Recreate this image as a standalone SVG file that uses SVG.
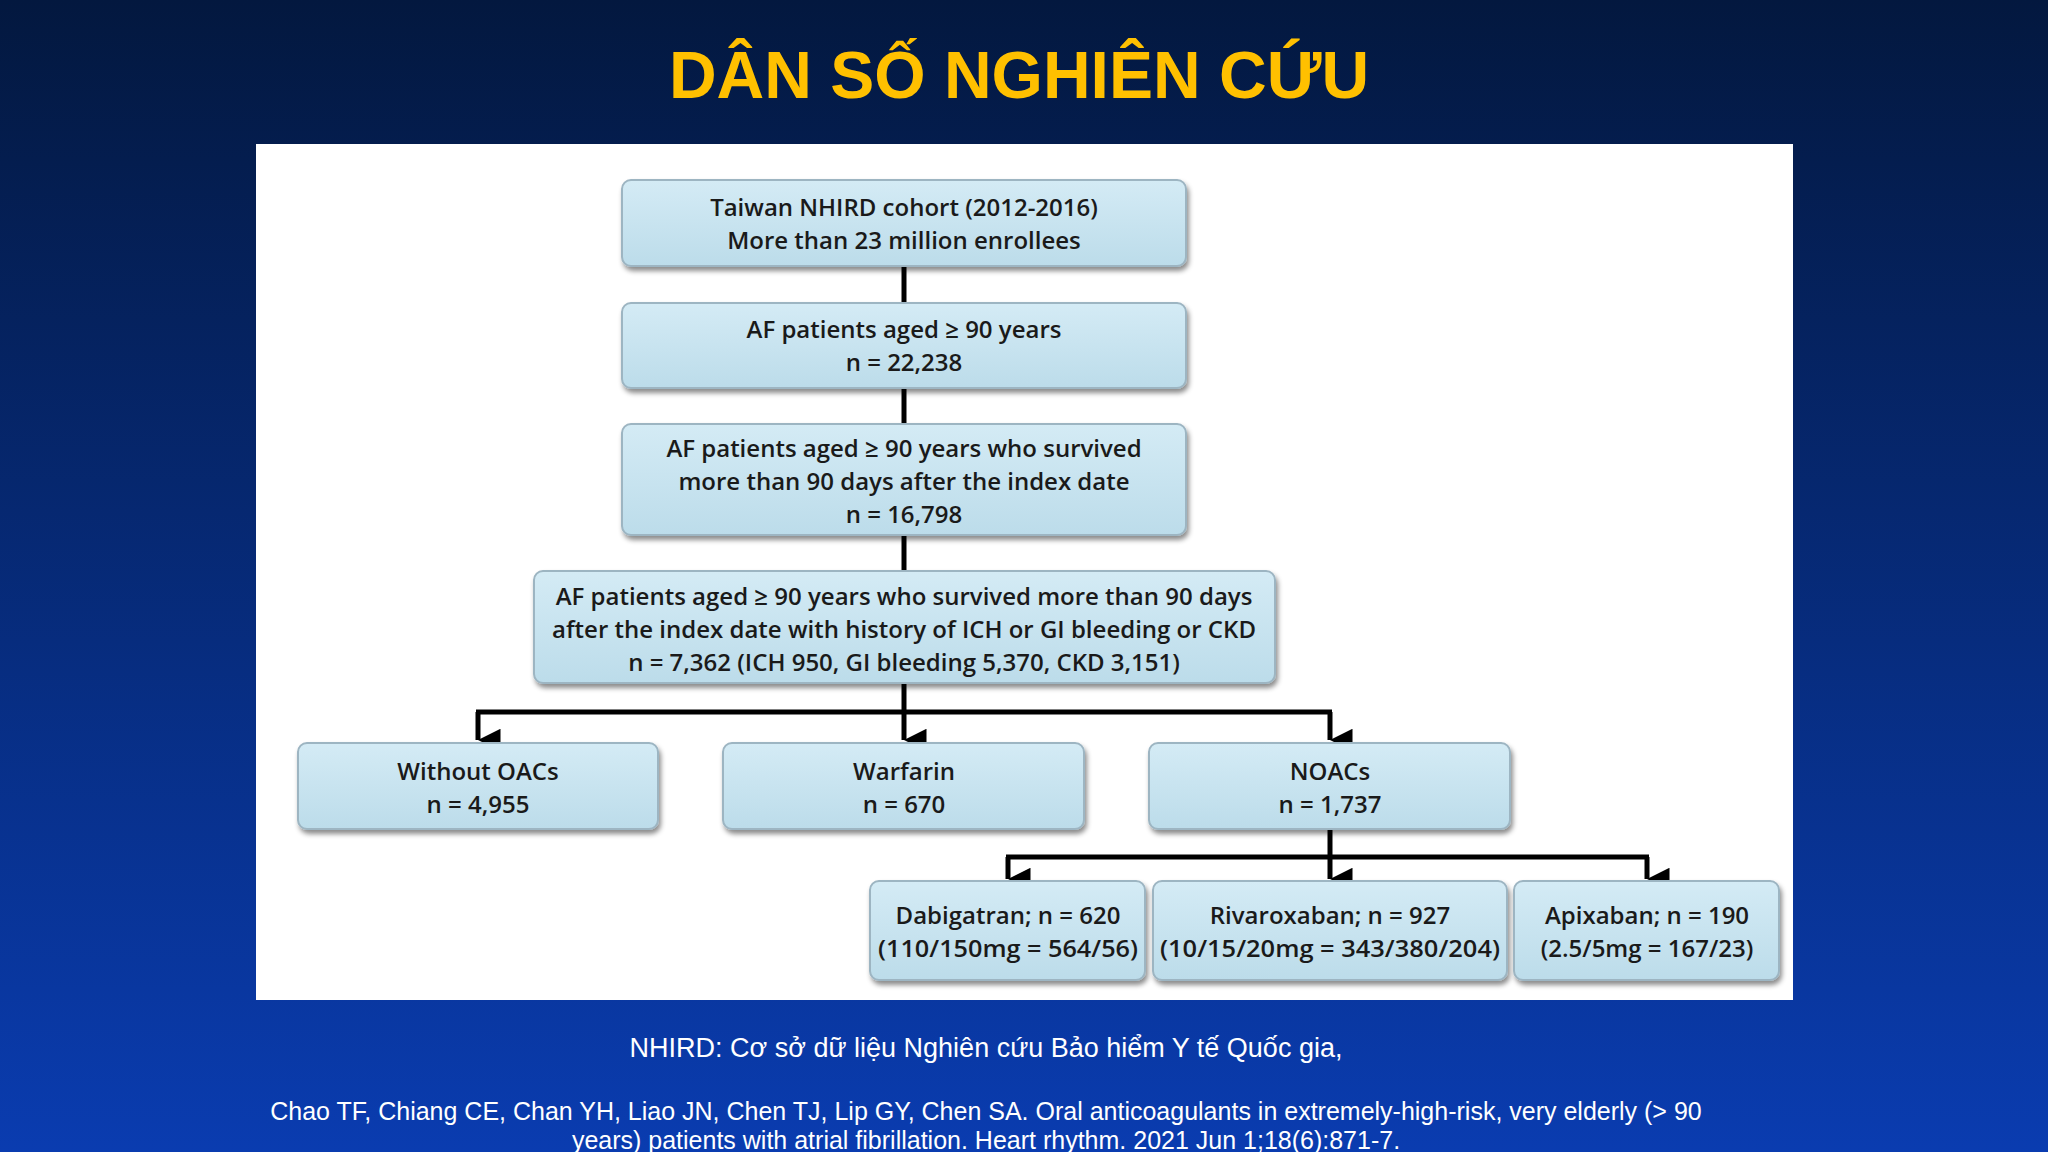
<svg xmlns="http://www.w3.org/2000/svg" width="2048" height="1152" viewBox="0 0 2048 1152">
<defs>
<linearGradient id="bg" x1="0" y1="0" x2="0" y2="1"><stop offset="0" stop-color="#03183f"/><stop offset="1" stop-color="#0a3cb0"/></linearGradient>
<linearGradient id="bx" x1="0" y1="0" x2="0" y2="1"><stop offset="0" stop-color="#d4ebf5"/><stop offset="1" stop-color="#bcdcea"/></linearGradient>
<filter id="sh" x="-5%" y="-10%" width="110%" height="125%"><feDropShadow dx="2" dy="4" stdDeviation="2.5" flood-color="#000" flood-opacity="0.45"/></filter>
<marker id="ar" viewBox="0 0 10 10" refX="5" refY="10" markerWidth="4.5" markerHeight="4.5" orient="auto-start-reverse"><path d="M0,0 L10,0 L5,10 Z" fill="#000"/></marker>
<style>
.b{fill:url(#bx);stroke:#9db5c2;stroke-width:2;filter:url(#sh)}
.t{font-family:"Open Sans","Liberation Sans",sans-serif;font-weight:600;font-size:24px;fill:#1a1a1a;text-anchor:middle}
.c{stroke:#000;stroke-width:5;fill:none}
.a{stroke:#000;stroke-width:5;fill:none;marker-end:url(#ar)}
.f{font-family:"Liberation Sans",Arial,sans-serif;fill:#fff;text-anchor:middle}
</style>
</defs>
<rect width="2048" height="1152" fill="url(#bg)"/>
<text x="1019" y="98" font-family="Liberation Sans,Arial,sans-serif" font-weight="bold" font-size="66" fill="#ffc000" text-anchor="middle">DÂN SỐ NGHIÊN CỨU</text>
<rect x="256" y="144" width="1537" height="856" fill="#fff"/>
<g id="connectors">
<line class="c" x1="904" y1="266" x2="904" y2="303"/>
<line class="c" x1="904" y1="388" x2="904" y2="424"/>
<line class="c" x1="904" y1="535" x2="904" y2="571"/>
<line class="c" x1="904" y1="683" x2="904" y2="712"/>
<line class="c" x1="476" y1="712" x2="1332" y2="712"/>
<line class="a" x1="478" y1="712" x2="478" y2="740"/>
<line class="a" x1="904" y1="712" x2="904" y2="740"/>
<line class="a" x1="1330" y1="712" x2="1330" y2="740"/>
<line class="c" x1="1330" y1="829" x2="1330" y2="857"/>
<line class="c" x1="1006" y1="857" x2="1649" y2="857"/>
<line class="a" x1="1008" y1="857" x2="1008" y2="879"/>
<line class="a" x1="1330" y1="857" x2="1330" y2="879"/>
<line class="a" x1="1647" y1="857" x2="1647" y2="879"/>
</g>
<g id="n1"><rect class="b" x="622" y="180" width="564" height="86" rx="9"/><text class="t" x="904" y="216">Taiwan NHIRD cohort (2012-2016)</text><text class="t" x="904" y="249">More than 23 million enrollees</text></g>
<g id="n2"><rect class="b" x="622" y="303" width="564" height="85" rx="9"/><text class="t" x="904" y="338">AF patients aged ≥ 90 years</text><text class="t" x="904" y="371">n = 22,238</text></g>
<g id="n3"><rect class="b" x="622" y="424" width="564" height="111" rx="9"/><text class="t" x="904" y="457">AF patients aged ≥ 90 years who survived</text><text class="t" x="904" y="490">more than 90 days after the index date</text><text class="t" x="904" y="523">n = 16,798</text></g>
<g id="n4"><rect class="b" x="534" y="571" width="741" height="112" rx="9"/><text class="t" x="904" y="605">AF patients aged ≥ 90 years who survived more than 90 days</text><text class="t" x="904" y="638">after the index date with history of ICH or GI bleeding or CKD</text><text class="t" x="904" y="671">n = 7,362 (ICH 950, GI bleeding 5,370, CKD 3,151)</text></g>
<g id="n5"><rect class="b" x="298" y="743" width="360" height="86" rx="9"/><text class="t" x="478" y="780">Without OACs</text><text class="t" x="478" y="813">n = 4,955</text></g>
<g id="n6"><rect class="b" x="723" y="743" width="361" height="86" rx="9"/><text class="t" x="904" y="780">Warfarin</text><text class="t" x="904" y="813">n = 670</text></g>
<g id="n7"><rect class="b" x="1149" y="743" width="361" height="86" rx="9"/><text class="t" x="1330" y="780">NOACs</text><text class="t" x="1330" y="813">n = 1,737</text></g>
<g id="n8"><rect class="b" x="870" y="881" width="275" height="99" rx="9"/><text class="t" x="1008" y="924">Dabigatran; n = 620</text><text class="t" x="1008" y="957" textLength="260" lengthAdjust="spacingAndGlyphs">(110/150mg = 564/56)</text></g>
<g id="n9"><rect class="b" x="1153" y="881" width="354" height="99" rx="9"/><text class="t" x="1330" y="924">Rivaroxaban; n = 927</text><text class="t" x="1330" y="957" textLength="340" lengthAdjust="spacingAndGlyphs">(10/15/20mg = 343/380/204)</text></g>
<g id="n10"><rect class="b" x="1514" y="881" width="265" height="99" rx="9"/><text class="t" x="1647" y="924">Apixaban; n = 190</text><text class="t" x="1647" y="957">(2.5/5mg = 167/23)</text></g>
<text class="f" x="986" y="1057" font-size="27">NHIRD: Cơ sở dữ liệu Nghiên cứu Bảo hiểm Y tế Quốc gia,</text>
<text class="f" x="986" y="1120" font-size="25">Chao TF, Chiang CE, Chan YH, Liao JN, Chen TJ, Lip GY, Chen SA. Oral anticoagulants in extremely-high-risk, very elderly (&gt; 90</text>
<text class="f" x="986" y="1149" font-size="25">years) patients with atrial fibrillation. Heart rhythm. 2021 Jun 1;18(6):871-7.</text>
</svg>
